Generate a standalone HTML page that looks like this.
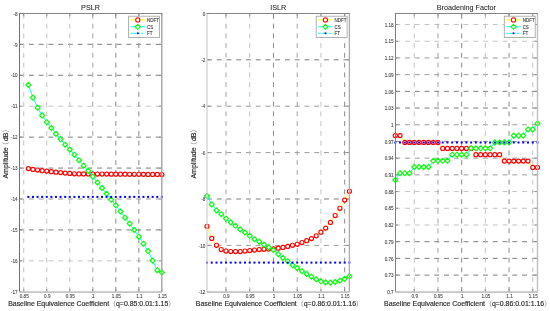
<!DOCTYPE html><html><head><meta charset="utf-8"><title>PSLR ISLR Broadening Factor</title>
<style>html,body{margin:0;padding:0;background:#fff;width:550px;height:311px;overflow:hidden}svg{display:block}text{font-family:"Liberation Sans","Noto Sans CJK SC",Arial,sans-serif;fill:#2a2a2a}.tl text{fill:#4a4a4a;stroke:#4a4a4a;stroke-width:0.1px}.lb{stroke:#2a2a2a;stroke-width:0.16px}.pn{fill:#777;stroke:none}.tt{stroke:#333;stroke-width:0.08px}.lg text{fill:#3c3c3c;stroke:#3c3c3c;stroke-width:0.12px}</style></head><body>
<svg width="550" height="311" viewBox="0 0 550 311">
<rect width="550" height="311" fill="#fff"/>
<g>
<path d="M19.20 44.33H161.80" stroke="#7e7e7e" stroke-width="1" stroke-dasharray="4.9 4.85"/>
<path d="M19.20 75.27H161.80" stroke="#7e7e7e" stroke-width="1" stroke-dasharray="4.9 4.85"/>
<path d="M19.20 106.20H161.80" stroke="#c4c4c4" stroke-width="1" stroke-dasharray="4.9 4.85"/>
<path d="M19.20 137.13H161.80" stroke="#7e7e7e" stroke-width="1" stroke-dasharray="4.9 4.85"/>
<path d="M19.20 168.07H161.80" stroke="#7e7e7e" stroke-width="1" stroke-dasharray="4.9 4.85"/>
<path d="M19.20 199.00H161.80" stroke="#9c9c9c" stroke-width="1" stroke-dasharray="4.9 4.85"/>
<path d="M19.20 229.93H161.80" stroke="#7e7e7e" stroke-width="1" stroke-dasharray="4.9 4.85"/>
<path d="M19.20 260.87H161.80" stroke="#c4c4c4" stroke-width="1" stroke-dasharray="4.9 4.85"/>
<path d="M23.76 291.80V13.40" stroke="#c2c2c2" stroke-width="1" stroke-dasharray="4.9 4.85"/>
<path d="M46.77 291.80V13.40" stroke="#c2c2c2" stroke-width="1" stroke-dasharray="4.9 4.85"/>
<path d="M69.79 291.80V13.40" stroke="#c2c2c2" stroke-width="1" stroke-dasharray="4.9 4.85"/>
<path d="M92.81 291.80V13.40" stroke="#a4a4a4" stroke-width="1" stroke-dasharray="4.9 4.85"/>
<path d="M115.83 291.80V13.40" stroke="#8a8a8a" stroke-width="1" stroke-dasharray="4.9 4.85"/>
<path d="M138.85 291.80V13.40" stroke="#8a8a8a" stroke-width="1" stroke-dasharray="4.9 4.85"/>
<path d="M19.20 13.40h2.8M161.80 13.40h-2.8M19.20 44.33h2.8M161.80 44.33h-2.8M19.20 75.27h2.8M161.80 75.27h-2.8M19.20 106.20h2.8M161.80 106.20h-2.8M19.20 137.13h2.8M161.80 137.13h-2.8M19.20 168.07h2.8M161.80 168.07h-2.8M19.20 199.00h2.8M161.80 199.00h-2.8M19.20 229.93h2.8M161.80 229.93h-2.8M19.20 260.87h2.8M161.80 260.87h-2.8M19.20 291.80h2.8M161.80 291.80h-2.8M23.76 291.80v-2.8M23.76 13.40v2.8M46.77 291.80v-2.8M46.77 13.40v2.8M69.79 291.80v-2.8M69.79 13.40v2.8M92.81 291.80v-2.8M92.81 13.40v2.8M115.83 291.80v-2.8M115.83 13.40v2.8M138.85 291.80v-2.8M138.85 13.40v2.8M161.86 291.80v-2.8M161.86 13.40v2.8" stroke="#8c8c8c" stroke-width="0.9" fill="none"/>
</g>
<polyline points="28.36,168.60 32.96,169.40 37.57,170.00 42.17,170.70 46.77,171.10 51.38,171.70 55.98,172.20 60.58,172.60 65.19,173.10 69.79,173.40 74.40,173.80 79.00,173.90 83.60,173.93 88.21,173.97 92.81,174.00 97.41,174.03 102.02,174.07 106.62,174.10 111.22,174.13 115.83,174.17 120.43,174.20 125.04,174.23 129.64,174.27 134.24,174.30 138.85,174.33 143.45,174.37 148.05,174.40 152.66,174.43 157.26,174.47 161.86,174.50" stroke="#ffff00" stroke-width="0.8" fill="none"/>
<g fill="#fff" stroke="#ff0000" stroke-width="1.15">
<circle cx="28.36" cy="168.60" r="2.05"/>
<circle cx="32.96" cy="169.40" r="2.05"/>
<circle cx="37.57" cy="170.00" r="2.05"/>
<circle cx="42.17" cy="170.70" r="2.05"/>
<circle cx="46.77" cy="171.10" r="2.05"/>
<circle cx="51.38" cy="171.70" r="2.05"/>
<circle cx="55.98" cy="172.20" r="2.05"/>
<circle cx="60.58" cy="172.60" r="2.05"/>
<circle cx="65.19" cy="173.10" r="2.05"/>
<circle cx="69.79" cy="173.40" r="2.05"/>
<circle cx="74.40" cy="173.80" r="2.05"/>
<circle cx="79.00" cy="173.90" r="2.05"/>
<circle cx="83.60" cy="173.93" r="2.05"/>
<circle cx="88.21" cy="173.97" r="2.05"/>
<circle cx="92.81" cy="174.00" r="2.05"/>
<circle cx="97.41" cy="174.03" r="2.05"/>
<circle cx="102.02" cy="174.07" r="2.05"/>
<circle cx="106.62" cy="174.10" r="2.05"/>
<circle cx="111.22" cy="174.13" r="2.05"/>
<circle cx="115.83" cy="174.17" r="2.05"/>
<circle cx="120.43" cy="174.20" r="2.05"/>
<circle cx="125.04" cy="174.23" r="2.05"/>
<circle cx="129.64" cy="174.27" r="2.05"/>
<circle cx="134.24" cy="174.30" r="2.05"/>
<circle cx="138.85" cy="174.33" r="2.05"/>
<circle cx="143.45" cy="174.37" r="2.05"/>
<circle cx="148.05" cy="174.40" r="2.05"/>
<circle cx="152.66" cy="174.43" r="2.05"/>
<circle cx="157.26" cy="174.47" r="2.05"/>
<circle cx="161.86" cy="174.50" r="2.05"/>
</g>
<polyline points="28.36,84.90 32.96,97.60 37.57,107.60 42.17,115.40 46.77,122.20 51.38,128.00 55.98,133.90 60.58,139.30 65.19,144.70 69.79,149.50 74.40,154.70 79.00,160.20 83.60,165.70 88.21,170.90 92.81,176.60 97.41,182.40 102.02,188.00 106.62,193.80 111.22,199.80 115.83,205.30 120.43,211.50 125.04,217.70 129.64,223.60 134.24,230.00 138.85,236.70 143.45,243.70 148.05,251.10 152.66,260.60 157.26,270.20 161.86,272.50" stroke="#00ffff" stroke-width="1.0" fill="none"/>
<g fill="#fff" stroke="#00ff00" stroke-width="1.15">
<path d="M28.36 82.40l2.50 2.50l-2.50 2.50l-2.50 -2.50z"/>
<path d="M32.96 95.10l2.50 2.50l-2.50 2.50l-2.50 -2.50z"/>
<path d="M37.57 105.10l2.50 2.50l-2.50 2.50l-2.50 -2.50z"/>
<path d="M42.17 112.90l2.50 2.50l-2.50 2.50l-2.50 -2.50z"/>
<path d="M46.77 119.70l2.50 2.50l-2.50 2.50l-2.50 -2.50z"/>
<path d="M51.38 125.50l2.50 2.50l-2.50 2.50l-2.50 -2.50z"/>
<path d="M55.98 131.40l2.50 2.50l-2.50 2.50l-2.50 -2.50z"/>
<path d="M60.58 136.80l2.50 2.50l-2.50 2.50l-2.50 -2.50z"/>
<path d="M65.19 142.20l2.50 2.50l-2.50 2.50l-2.50 -2.50z"/>
<path d="M69.79 147.00l2.50 2.50l-2.50 2.50l-2.50 -2.50z"/>
<path d="M74.40 152.20l2.50 2.50l-2.50 2.50l-2.50 -2.50z"/>
<path d="M79.00 157.70l2.50 2.50l-2.50 2.50l-2.50 -2.50z"/>
<path d="M83.60 163.20l2.50 2.50l-2.50 2.50l-2.50 -2.50z"/>
<path d="M88.21 168.40l2.50 2.50l-2.50 2.50l-2.50 -2.50z"/>
<path d="M92.81 174.10l2.50 2.50l-2.50 2.50l-2.50 -2.50z"/>
<path d="M97.41 179.90l2.50 2.50l-2.50 2.50l-2.50 -2.50z"/>
<path d="M102.02 185.50l2.50 2.50l-2.50 2.50l-2.50 -2.50z"/>
<path d="M106.62 191.30l2.50 2.50l-2.50 2.50l-2.50 -2.50z"/>
<path d="M111.22 197.30l2.50 2.50l-2.50 2.50l-2.50 -2.50z"/>
<path d="M115.83 202.80l2.50 2.50l-2.50 2.50l-2.50 -2.50z"/>
<path d="M120.43 209.00l2.50 2.50l-2.50 2.50l-2.50 -2.50z"/>
<path d="M125.04 215.20l2.50 2.50l-2.50 2.50l-2.50 -2.50z"/>
<path d="M129.64 221.10l2.50 2.50l-2.50 2.50l-2.50 -2.50z"/>
<path d="M134.24 227.50l2.50 2.50l-2.50 2.50l-2.50 -2.50z"/>
<path d="M138.85 234.20l2.50 2.50l-2.50 2.50l-2.50 -2.50z"/>
<path d="M143.45 241.20l2.50 2.50l-2.50 2.50l-2.50 -2.50z"/>
<path d="M148.05 248.60l2.50 2.50l-2.50 2.50l-2.50 -2.50z"/>
<path d="M152.66 258.10l2.50 2.50l-2.50 2.50l-2.50 -2.50z"/>
<path d="M157.26 267.70l2.50 2.50l-2.50 2.50l-2.50 -2.50z"/>
<path d="M161.86 270.00l2.50 2.50l-2.50 2.50l-2.50 -2.50z"/>
</g>
<g fill="#0000ff">
<rect x="27.36" y="195.90" width="2" height="2"/>
<rect x="31.96" y="195.90" width="2" height="2"/>
<rect x="36.57" y="195.90" width="2" height="2"/>
<rect x="41.17" y="195.90" width="2" height="2"/>
<rect x="45.77" y="195.90" width="2" height="2"/>
<rect x="50.38" y="195.90" width="2" height="2"/>
<rect x="54.98" y="195.90" width="2" height="2"/>
<rect x="59.58" y="195.90" width="2" height="2"/>
<rect x="64.19" y="195.90" width="2" height="2"/>
<rect x="68.79" y="195.90" width="2" height="2"/>
<rect x="73.40" y="195.90" width="2" height="2"/>
<rect x="78.00" y="195.90" width="2" height="2"/>
<rect x="82.60" y="195.90" width="2" height="2"/>
<rect x="87.21" y="195.90" width="2" height="2"/>
<rect x="91.81" y="195.90" width="2" height="2"/>
<rect x="96.41" y="195.90" width="2" height="2"/>
<rect x="101.02" y="195.90" width="2" height="2"/>
<rect x="105.62" y="195.90" width="2" height="2"/>
<rect x="110.22" y="195.90" width="2" height="2"/>
<rect x="114.83" y="195.90" width="2" height="2"/>
<rect x="119.43" y="195.90" width="2" height="2"/>
<rect x="124.04" y="195.90" width="2" height="2"/>
<rect x="128.64" y="195.90" width="2" height="2"/>
<rect x="133.24" y="195.90" width="2" height="2"/>
<rect x="137.85" y="195.90" width="2" height="2"/>
<rect x="142.45" y="195.90" width="2" height="2"/>
<rect x="147.05" y="195.90" width="2" height="2"/>
<rect x="151.66" y="195.90" width="2" height="2"/>
<rect x="156.26" y="195.90" width="2" height="2"/>
<rect x="160.86" y="195.90" width="2" height="2"/>
</g>
<path d="M19.50 13.40V291.80" stroke="#707070" stroke-width="1.00"/>
<path d="M161.80 13.40V291.80" stroke="#a4a4a4" stroke-width="1.40"/>
<path d="M18.70 13.50H162.30" stroke="#858585" stroke-width="1.00"/>
<path d="M19.20 292.10H161.80" stroke="#c4c4c4" stroke-width="1.60"/>
<g font-size="4.6" text-anchor="end" class="tl">
<text x="17.50" y="15.60">-8</text>
<text x="17.50" y="46.53">-9</text>
<text x="17.50" y="77.47">-10</text>
<text x="17.50" y="108.40">-11</text>
<text x="17.50" y="139.33">-12</text>
<text x="17.50" y="170.27">-13</text>
<text x="17.50" y="201.20">-14</text>
<text x="17.50" y="232.13">-15</text>
<text x="17.50" y="263.07">-16</text>
<text x="17.50" y="294.00">-17</text>
</g>
<g font-size="4.6" text-anchor="middle" class="tl">
<text x="24.26" y="297.80">0.85</text>
<text x="47.27" y="297.80">0.9</text>
<text x="70.29" y="297.80">0.95</text>
<text x="93.31" y="297.80">1</text>
<text x="116.33" y="297.80">1.05</text>
<text x="139.35" y="297.80">1.1</text>
<text x="162.36" y="297.80">1.15</text>
</g>
<text class="tt" x="90.50" y="9.7" font-size="7.2" text-anchor="middle">PSLR</text>
<text class="lb" x="91.70" y="305.8" font-size="6.95" text-anchor="middle">Baseline Equivalence Coefficient<tspan class="pn">（</tspan>q=0.85:0.01:1.15<tspan class="pn">）</tspan></text>
<text class="lb" transform="translate(7.70 178.6) rotate(-90)" font-size="7.0">Amplitude<tspan class="pn" dx="-1.5">（</tspan><tspan dx="0.9">dB</tspan><tspan class="pn">）</tspan></text>
<rect x="128.60" y="16.20" width="30.90" height="21.40" fill="#fff" stroke="#a0a0a0" stroke-width="0.8"/>
<path d="M130.60 19.90H145.00" stroke="#ffff00" stroke-width="1"/>
<circle cx="137.80" cy="19.90" r="2.1" fill="#fff" stroke="#ff0000" stroke-width="1.1"/>
<path d="M130.60 26.80H145.00" stroke="#00ffff" stroke-width="1"/>
<path d="M137.80 24.30l2.5 2.5l-2.5 2.5l-2.5 -2.5z" fill="#fff" stroke="#00ff00" stroke-width="1.1"/>
<path d="M130.60 33.30H145.00" stroke="#00ffff" stroke-width="1" stroke-dasharray="2.4 1.1"/>
<rect x="136.90" y="32.40" width="1.8" height="1.8" fill="#0000ff"/>
<g font-size="4.9" class="lg">
<text x="147.00" y="21.70" textLength="12.0" lengthAdjust="spacingAndGlyphs">NDFT</text>
<text x="147.00" y="28.60" textLength="6.1" lengthAdjust="spacingAndGlyphs">CS</text>
<text x="147.00" y="35.10" textLength="5.5" lengthAdjust="spacingAndGlyphs">FT</text>
</g>
<g>
<path d="M207.00 59.80H349.40" stroke="#7e7e7e" stroke-width="1" stroke-dasharray="4.9 4.85"/>
<path d="M207.00 106.20H349.40" stroke="#9c9c9c" stroke-width="1" stroke-dasharray="4.9 4.85"/>
<path d="M207.00 152.60H349.40" stroke="#9c9c9c" stroke-width="1" stroke-dasharray="4.9 4.85"/>
<path d="M207.00 199.00H349.40" stroke="#7e7e7e" stroke-width="1" stroke-dasharray="4.9 4.85"/>
<path d="M207.00 245.40H349.40" stroke="#9c9c9c" stroke-width="1" stroke-dasharray="4.9 4.85"/>
<path d="M225.99 291.80V13.40" stroke="#a4a4a4" stroke-width="1" stroke-dasharray="4.9 4.85"/>
<path d="M249.72 291.80V13.40" stroke="#c2c2c2" stroke-width="1" stroke-dasharray="4.9 4.85"/>
<path d="M273.46 291.80V13.40" stroke="#8a8a8a" stroke-width="1" stroke-dasharray="4.9 4.85"/>
<path d="M297.19 291.80V13.40" stroke="#a4a4a4" stroke-width="1" stroke-dasharray="4.9 4.85"/>
<path d="M320.93 291.80V13.40" stroke="#c2c2c2" stroke-width="1" stroke-dasharray="4.9 4.85"/>
<path d="M344.66 291.80V13.40" stroke="#8a8a8a" stroke-width="1" stroke-dasharray="4.9 4.85"/>
<path d="M207.00 13.40h2.8M349.40 13.40h-2.8M207.00 59.80h2.8M349.40 59.80h-2.8M207.00 106.20h2.8M349.40 106.20h-2.8M207.00 152.60h2.8M349.40 152.60h-2.8M207.00 199.00h2.8M349.40 199.00h-2.8M207.00 245.40h2.8M349.40 245.40h-2.8M207.00 291.80h2.8M349.40 291.80h-2.8M225.99 291.80v-2.8M225.99 13.40v2.8M249.72 291.80v-2.8M249.72 13.40v2.8M273.46 291.80v-2.8M273.46 13.40v2.8M297.19 291.80v-2.8M297.19 13.40v2.8M320.93 291.80v-2.8M320.93 13.40v2.8M344.66 291.80v-2.8M344.66 13.40v2.8" stroke="#8c8c8c" stroke-width="0.9" fill="none"/>
</g>
<polyline points="207.00,226.30 211.75,238.40 216.49,245.30 221.24,249.50 225.99,251.00 230.74,251.50 235.48,251.50 240.23,251.50 244.98,251.00 249.72,250.50 254.47,250.00 259.22,249.50 263.96,249.30 268.71,249.10 273.46,248.90 278.21,248.20 282.95,247.40 287.70,246.40 292.45,245.30 297.19,244.30 301.94,242.50 306.69,240.70 311.43,238.60 316.18,235.80 320.93,232.20 325.67,228.10 330.42,222.40 335.17,215.50 339.92,208.30 344.66,200.10 349.41,191.30" stroke="#ffff00" stroke-width="0.8" fill="none"/>
<g fill="#fff" stroke="#ff0000" stroke-width="1.15">
<circle cx="207.00" cy="226.30" r="2.05"/>
<circle cx="211.75" cy="238.40" r="2.05"/>
<circle cx="216.49" cy="245.30" r="2.05"/>
<circle cx="221.24" cy="249.50" r="2.05"/>
<circle cx="225.99" cy="251.00" r="2.05"/>
<circle cx="230.74" cy="251.50" r="2.05"/>
<circle cx="235.48" cy="251.50" r="2.05"/>
<circle cx="240.23" cy="251.50" r="2.05"/>
<circle cx="244.98" cy="251.00" r="2.05"/>
<circle cx="249.72" cy="250.50" r="2.05"/>
<circle cx="254.47" cy="250.00" r="2.05"/>
<circle cx="259.22" cy="249.50" r="2.05"/>
<circle cx="263.96" cy="249.30" r="2.05"/>
<circle cx="268.71" cy="249.10" r="2.05"/>
<circle cx="273.46" cy="248.90" r="2.05"/>
<circle cx="278.21" cy="248.20" r="2.05"/>
<circle cx="282.95" cy="247.40" r="2.05"/>
<circle cx="287.70" cy="246.40" r="2.05"/>
<circle cx="292.45" cy="245.30" r="2.05"/>
<circle cx="297.19" cy="244.30" r="2.05"/>
<circle cx="301.94" cy="242.50" r="2.05"/>
<circle cx="306.69" cy="240.70" r="2.05"/>
<circle cx="311.43" cy="238.60" r="2.05"/>
<circle cx="316.18" cy="235.80" r="2.05"/>
<circle cx="320.93" cy="232.20" r="2.05"/>
<circle cx="325.67" cy="228.10" r="2.05"/>
<circle cx="330.42" cy="222.40" r="2.05"/>
<circle cx="335.17" cy="215.50" r="2.05"/>
<circle cx="339.92" cy="208.30" r="2.05"/>
<circle cx="344.66" cy="200.10" r="2.05"/>
<circle cx="349.41" cy="191.30" r="2.05"/>
</g>
<polyline points="207.00,196.00 211.75,204.40 216.49,210.40 221.24,214.20 225.99,218.60 230.74,222.40 235.48,225.80 240.23,229.40 244.98,232.50 249.72,235.80 254.47,239.20 259.22,241.70 263.96,244.60 268.71,247.40 273.46,250.00 278.21,254.10 282.95,257.90 287.70,261.20 292.45,265.10 297.19,268.00 301.94,271.10 306.69,274.00 311.43,276.70 316.18,279.20 320.93,281.30 325.67,282.40 330.42,282.60 335.17,282.00 339.92,280.70 344.66,278.80 349.41,276.30" stroke="#00ffff" stroke-width="1.0" fill="none"/>
<g fill="#fff" stroke="#00ff00" stroke-width="1.15">
<path d="M207.00 193.50l2.50 2.50l-2.50 2.50l-2.50 -2.50z"/>
<path d="M211.75 201.90l2.50 2.50l-2.50 2.50l-2.50 -2.50z"/>
<path d="M216.49 207.90l2.50 2.50l-2.50 2.50l-2.50 -2.50z"/>
<path d="M221.24 211.70l2.50 2.50l-2.50 2.50l-2.50 -2.50z"/>
<path d="M225.99 216.10l2.50 2.50l-2.50 2.50l-2.50 -2.50z"/>
<path d="M230.74 219.90l2.50 2.50l-2.50 2.50l-2.50 -2.50z"/>
<path d="M235.48 223.30l2.50 2.50l-2.50 2.50l-2.50 -2.50z"/>
<path d="M240.23 226.90l2.50 2.50l-2.50 2.50l-2.50 -2.50z"/>
<path d="M244.98 230.00l2.50 2.50l-2.50 2.50l-2.50 -2.50z"/>
<path d="M249.72 233.30l2.50 2.50l-2.50 2.50l-2.50 -2.50z"/>
<path d="M254.47 236.70l2.50 2.50l-2.50 2.50l-2.50 -2.50z"/>
<path d="M259.22 239.20l2.50 2.50l-2.50 2.50l-2.50 -2.50z"/>
<path d="M263.96 242.10l2.50 2.50l-2.50 2.50l-2.50 -2.50z"/>
<path d="M268.71 244.90l2.50 2.50l-2.50 2.50l-2.50 -2.50z"/>
<path d="M273.46 247.50l2.50 2.50l-2.50 2.50l-2.50 -2.50z"/>
<path d="M278.21 251.60l2.50 2.50l-2.50 2.50l-2.50 -2.50z"/>
<path d="M282.95 255.40l2.50 2.50l-2.50 2.50l-2.50 -2.50z"/>
<path d="M287.70 258.70l2.50 2.50l-2.50 2.50l-2.50 -2.50z"/>
<path d="M292.45 262.60l2.50 2.50l-2.50 2.50l-2.50 -2.50z"/>
<path d="M297.19 265.50l2.50 2.50l-2.50 2.50l-2.50 -2.50z"/>
<path d="M301.94 268.60l2.50 2.50l-2.50 2.50l-2.50 -2.50z"/>
<path d="M306.69 271.50l2.50 2.50l-2.50 2.50l-2.50 -2.50z"/>
<path d="M311.43 274.20l2.50 2.50l-2.50 2.50l-2.50 -2.50z"/>
<path d="M316.18 276.70l2.50 2.50l-2.50 2.50l-2.50 -2.50z"/>
<path d="M320.93 278.80l2.50 2.50l-2.50 2.50l-2.50 -2.50z"/>
<path d="M325.67 279.90l2.50 2.50l-2.50 2.50l-2.50 -2.50z"/>
<path d="M330.42 280.10l2.50 2.50l-2.50 2.50l-2.50 -2.50z"/>
<path d="M335.17 279.50l2.50 2.50l-2.50 2.50l-2.50 -2.50z"/>
<path d="M339.92 278.20l2.50 2.50l-2.50 2.50l-2.50 -2.50z"/>
<path d="M344.66 276.30l2.50 2.50l-2.50 2.50l-2.50 -2.50z"/>
<path d="M349.41 273.80l2.50 2.50l-2.50 2.50l-2.50 -2.50z"/>
</g>
<g fill="#0000ff">
<rect x="206.00" y="261.60" width="2" height="2"/>
<rect x="210.75" y="261.60" width="2" height="2"/>
<rect x="215.49" y="261.60" width="2" height="2"/>
<rect x="220.24" y="261.60" width="2" height="2"/>
<rect x="224.99" y="261.60" width="2" height="2"/>
<rect x="229.74" y="261.60" width="2" height="2"/>
<rect x="234.48" y="261.60" width="2" height="2"/>
<rect x="239.23" y="261.60" width="2" height="2"/>
<rect x="243.98" y="261.60" width="2" height="2"/>
<rect x="248.72" y="261.60" width="2" height="2"/>
<rect x="253.47" y="261.60" width="2" height="2"/>
<rect x="258.22" y="261.60" width="2" height="2"/>
<rect x="262.96" y="261.60" width="2" height="2"/>
<rect x="267.71" y="261.60" width="2" height="2"/>
<rect x="272.46" y="261.60" width="2" height="2"/>
<rect x="277.21" y="261.60" width="2" height="2"/>
<rect x="281.95" y="261.60" width="2" height="2"/>
<rect x="286.70" y="261.60" width="2" height="2"/>
<rect x="291.45" y="261.60" width="2" height="2"/>
<rect x="296.19" y="261.60" width="2" height="2"/>
<rect x="300.94" y="261.60" width="2" height="2"/>
<rect x="305.69" y="261.60" width="2" height="2"/>
<rect x="310.43" y="261.60" width="2" height="2"/>
<rect x="315.18" y="261.60" width="2" height="2"/>
<rect x="319.93" y="261.60" width="2" height="2"/>
<rect x="324.67" y="261.60" width="2" height="2"/>
<rect x="329.42" y="261.60" width="2" height="2"/>
<rect x="334.17" y="261.60" width="2" height="2"/>
<rect x="338.92" y="261.60" width="2" height="2"/>
<rect x="343.66" y="261.60" width="2" height="2"/>
<rect x="348.41" y="261.60" width="2" height="2"/>
</g>
<path d="M207.00 13.40V291.80" stroke="#cdcdcd" stroke-width="1.20"/>
<path d="M349.40 13.40V291.80" stroke="#acacac" stroke-width="1.30"/>
<path d="M206.50 13.50H349.90" stroke="#858585" stroke-width="1.00"/>
<path d="M207.00 292.10H349.40" stroke="#c4c4c4" stroke-width="1.60"/>
<g font-size="4.6" text-anchor="end" class="tl">
<text x="205.30" y="15.60">0</text>
<text x="205.30" y="62.00">-2</text>
<text x="205.30" y="108.40">-4</text>
<text x="205.30" y="154.80">-6</text>
<text x="205.30" y="201.20">-8</text>
<text x="205.30" y="247.60">-10</text>
<text x="205.30" y="294.00">-12</text>
</g>
<g font-size="4.6" text-anchor="middle" class="tl">
<text x="226.49" y="297.80">0.9</text>
<text x="250.22" y="297.80">0.95</text>
<text x="273.96" y="297.80">1</text>
<text x="297.69" y="297.80">1.05</text>
<text x="321.43" y="297.80">1.1</text>
<text x="345.16" y="297.80">1.15</text>
</g>
<text class="tt" x="278.20" y="9.7" font-size="7.2" text-anchor="middle">ISLR</text>
<text class="lb" x="279.40" y="305.8" font-size="6.95" text-anchor="middle">Baseline Equivalence Coefficient<tspan class="pn">（</tspan>q=0.86:0.01:1.16<tspan class="pn">）</tspan></text>
<text class="lb" transform="translate(195.50 178.6) rotate(-90)" font-size="7.0">Amplitude<tspan class="pn" dx="-1.5">（</tspan><tspan dx="0.9">dB</tspan><tspan class="pn">）</tspan></text>
<rect x="316.20" y="16.20" width="30.90" height="21.40" fill="#fff" stroke="#a0a0a0" stroke-width="0.8"/>
<path d="M318.20 19.90H332.60" stroke="#ffff00" stroke-width="1"/>
<circle cx="325.40" cy="19.90" r="2.1" fill="#fff" stroke="#ff0000" stroke-width="1.1"/>
<path d="M318.20 26.80H332.60" stroke="#00ffff" stroke-width="1"/>
<path d="M325.40 24.30l2.5 2.5l-2.5 2.5l-2.5 -2.5z" fill="#fff" stroke="#00ff00" stroke-width="1.1"/>
<path d="M318.20 33.30H332.60" stroke="#00ffff" stroke-width="1" stroke-dasharray="2.4 1.1"/>
<rect x="324.50" y="32.40" width="1.8" height="1.8" fill="#0000ff"/>
<g font-size="4.9" class="lg">
<text x="334.60" y="21.70" textLength="12.0" lengthAdjust="spacingAndGlyphs">NDFT</text>
<text x="334.60" y="28.60" textLength="6.1" lengthAdjust="spacingAndGlyphs">CS</text>
<text x="334.60" y="35.10" textLength="5.5" lengthAdjust="spacingAndGlyphs">FT</text>
</g>
<g>
<path d="M395.30 275.10H537.50" stroke="#7e7e7e" stroke-width="1" stroke-dasharray="4.9 4.85"/>
<path d="M395.30 258.39H537.50" stroke="#7e7e7e" stroke-width="1" stroke-dasharray="4.9 4.85"/>
<path d="M395.30 241.69H537.50" stroke="#7e7e7e" stroke-width="1" stroke-dasharray="4.9 4.85"/>
<path d="M395.30 224.98H537.50" stroke="#c4c4c4" stroke-width="1" stroke-dasharray="4.9 4.85"/>
<path d="M395.30 208.28H537.50" stroke="#c4c4c4" stroke-width="1" stroke-dasharray="4.9 4.85"/>
<path d="M395.30 191.58H537.50" stroke="#c4c4c4" stroke-width="1" stroke-dasharray="4.9 4.85"/>
<path d="M395.30 174.87H537.50" stroke="#9c9c9c" stroke-width="1" stroke-dasharray="4.9 4.85"/>
<path d="M395.30 158.17H537.50" stroke="#9c9c9c" stroke-width="1" stroke-dasharray="4.9 4.85"/>
<path d="M395.30 141.46H537.50" stroke="#9c9c9c" stroke-width="1" stroke-dasharray="4.9 4.85"/>
<path d="M395.30 124.76H537.50" stroke="#9c9c9c" stroke-width="1" stroke-dasharray="4.9 4.85"/>
<path d="M395.30 108.06H537.50" stroke="#7e7e7e" stroke-width="1" stroke-dasharray="4.9 4.85"/>
<path d="M395.30 91.35H537.50" stroke="#7e7e7e" stroke-width="1" stroke-dasharray="4.9 4.85"/>
<path d="M395.30 74.65H537.50" stroke="#9c9c9c" stroke-width="1" stroke-dasharray="4.9 4.85"/>
<path d="M395.30 57.94H537.50" stroke="#9c9c9c" stroke-width="1" stroke-dasharray="4.9 4.85"/>
<path d="M395.30 41.24H537.50" stroke="#c4c4c4" stroke-width="1" stroke-dasharray="4.9 4.85"/>
<path d="M395.30 24.54H537.50" stroke="#c4c4c4" stroke-width="1" stroke-dasharray="4.9 4.85"/>
<path d="M414.26 291.80V13.40" stroke="#c2c2c2" stroke-width="1" stroke-dasharray="4.9 4.85"/>
<path d="M437.96 291.80V13.40" stroke="#a4a4a4" stroke-width="1" stroke-dasharray="4.9 4.85"/>
<path d="M461.66 291.80V13.40" stroke="#8a8a8a" stroke-width="1" stroke-dasharray="4.9 4.85"/>
<path d="M485.36 291.80V13.40" stroke="#c2c2c2" stroke-width="1" stroke-dasharray="4.9 4.85"/>
<path d="M509.06 291.80V13.40" stroke="#8a8a8a" stroke-width="1" stroke-dasharray="4.9 4.85"/>
<path d="M532.76 291.80V13.40" stroke="#c2c2c2" stroke-width="1" stroke-dasharray="4.9 4.85"/>
<path d="M395.30 291.80h2.8M537.50 291.80h-2.8M395.30 275.10h2.8M537.50 275.10h-2.8M395.30 258.39h2.8M537.50 258.39h-2.8M395.30 241.69h2.8M537.50 241.69h-2.8M395.30 224.98h2.8M537.50 224.98h-2.8M395.30 208.28h2.8M537.50 208.28h-2.8M395.30 191.58h2.8M537.50 191.58h-2.8M395.30 174.87h2.8M537.50 174.87h-2.8M395.30 158.17h2.8M537.50 158.17h-2.8M395.30 141.46h2.8M537.50 141.46h-2.8M395.30 124.76h2.8M537.50 124.76h-2.8M395.30 108.06h2.8M537.50 108.06h-2.8M395.30 91.35h2.8M537.50 91.35h-2.8M395.30 74.65h2.8M537.50 74.65h-2.8M395.30 57.94h2.8M537.50 57.94h-2.8M395.30 41.24h2.8M537.50 41.24h-2.8M395.30 24.54h2.8M537.50 24.54h-2.8M414.26 291.80v-2.8M414.26 13.40v2.8M437.96 291.80v-2.8M437.96 13.40v2.8M461.66 291.80v-2.8M461.66 13.40v2.8M485.36 291.80v-2.8M485.36 13.40v2.8M509.06 291.80v-2.8M509.06 13.40v2.8M532.76 291.80v-2.8M532.76 13.40v2.8" stroke="#8c8c8c" stroke-width="0.9" fill="none"/>
</g>
<polyline points="395.30,135.60 400.04,135.60 404.78,142.40 409.52,142.40 414.26,142.40 419.00,142.40 423.74,142.40 428.48,142.40 433.22,142.40 437.96,142.40 442.70,148.40 447.44,148.40 452.18,148.40 456.92,148.40 461.66,148.40 466.40,148.40 471.14,148.40 475.88,154.70 480.62,154.70 485.36,154.70 490.10,154.70 494.84,154.70 499.58,154.70 504.32,161.10 509.06,161.10 513.80,161.10 518.54,161.10 523.28,161.10 528.02,161.10 532.76,167.40 537.50,167.40" stroke="#ffff00" stroke-width="0.8" fill="none"/>
<g fill="#fff" stroke="#ff0000" stroke-width="1.15">
<circle cx="395.30" cy="135.60" r="2.05"/>
<circle cx="400.04" cy="135.60" r="2.05"/>
<circle cx="404.78" cy="142.40" r="2.05"/>
<circle cx="409.52" cy="142.40" r="2.05"/>
<circle cx="414.26" cy="142.40" r="2.05"/>
<circle cx="419.00" cy="142.40" r="2.05"/>
<circle cx="423.74" cy="142.40" r="2.05"/>
<circle cx="428.48" cy="142.40" r="2.05"/>
<circle cx="433.22" cy="142.40" r="2.05"/>
<circle cx="437.96" cy="142.40" r="2.05"/>
<circle cx="442.70" cy="148.40" r="2.05"/>
<circle cx="447.44" cy="148.40" r="2.05"/>
<circle cx="452.18" cy="148.40" r="2.05"/>
<circle cx="456.92" cy="148.40" r="2.05"/>
<circle cx="461.66" cy="148.40" r="2.05"/>
<circle cx="466.40" cy="148.40" r="2.05"/>
<circle cx="471.14" cy="148.40" r="2.05"/>
<circle cx="475.88" cy="154.70" r="2.05"/>
<circle cx="480.62" cy="154.70" r="2.05"/>
<circle cx="485.36" cy="154.70" r="2.05"/>
<circle cx="490.10" cy="154.70" r="2.05"/>
<circle cx="494.84" cy="154.70" r="2.05"/>
<circle cx="499.58" cy="154.70" r="2.05"/>
<circle cx="504.32" cy="161.10" r="2.05"/>
<circle cx="509.06" cy="161.10" r="2.05"/>
<circle cx="513.80" cy="161.10" r="2.05"/>
<circle cx="518.54" cy="161.10" r="2.05"/>
<circle cx="523.28" cy="161.10" r="2.05"/>
<circle cx="528.02" cy="161.10" r="2.05"/>
<circle cx="532.76" cy="167.40" r="2.05"/>
<circle cx="537.50" cy="167.40" r="2.05"/>
</g>
<polyline points="395.30,180.00 400.04,173.20 404.78,173.20 409.52,173.20 414.26,167.00 419.00,167.00 423.74,167.00 428.48,167.00 433.22,160.80 437.96,160.80 442.70,160.80 447.44,160.80 452.18,154.70 456.92,154.70 461.66,154.70 466.40,154.70 471.14,148.30 475.88,148.30 480.62,148.30 485.36,148.30 490.10,148.30 494.84,142.40 499.58,142.40 504.32,142.40 509.06,142.40 513.80,135.60 518.54,135.60 523.28,135.60 528.02,129.40 532.76,129.40 537.50,123.50" stroke="#00ffff" stroke-width="1.0" fill="none"/>
<g fill="#fff" stroke="#00ff00" stroke-width="1.15">
<path d="M395.30 177.50l2.50 2.50l-2.50 2.50l-2.50 -2.50z"/>
<path d="M400.04 170.70l2.50 2.50l-2.50 2.50l-2.50 -2.50z"/>
<path d="M404.78 170.70l2.50 2.50l-2.50 2.50l-2.50 -2.50z"/>
<path d="M409.52 170.70l2.50 2.50l-2.50 2.50l-2.50 -2.50z"/>
<path d="M414.26 164.50l2.50 2.50l-2.50 2.50l-2.50 -2.50z"/>
<path d="M419.00 164.50l2.50 2.50l-2.50 2.50l-2.50 -2.50z"/>
<path d="M423.74 164.50l2.50 2.50l-2.50 2.50l-2.50 -2.50z"/>
<path d="M428.48 164.50l2.50 2.50l-2.50 2.50l-2.50 -2.50z"/>
<path d="M433.22 158.30l2.50 2.50l-2.50 2.50l-2.50 -2.50z"/>
<path d="M437.96 158.30l2.50 2.50l-2.50 2.50l-2.50 -2.50z"/>
<path d="M442.70 158.30l2.50 2.50l-2.50 2.50l-2.50 -2.50z"/>
<path d="M447.44 158.30l2.50 2.50l-2.50 2.50l-2.50 -2.50z"/>
<path d="M452.18 152.20l2.50 2.50l-2.50 2.50l-2.50 -2.50z"/>
<path d="M456.92 152.20l2.50 2.50l-2.50 2.50l-2.50 -2.50z"/>
<path d="M461.66 152.20l2.50 2.50l-2.50 2.50l-2.50 -2.50z"/>
<path d="M466.40 152.20l2.50 2.50l-2.50 2.50l-2.50 -2.50z"/>
<path d="M471.14 145.80l2.50 2.50l-2.50 2.50l-2.50 -2.50z"/>
<path d="M475.88 145.80l2.50 2.50l-2.50 2.50l-2.50 -2.50z"/>
<path d="M480.62 145.80l2.50 2.50l-2.50 2.50l-2.50 -2.50z"/>
<path d="M485.36 145.80l2.50 2.50l-2.50 2.50l-2.50 -2.50z"/>
<path d="M490.10 145.80l2.50 2.50l-2.50 2.50l-2.50 -2.50z"/>
<path d="M494.84 139.90l2.50 2.50l-2.50 2.50l-2.50 -2.50z"/>
<path d="M499.58 139.90l2.50 2.50l-2.50 2.50l-2.50 -2.50z"/>
<path d="M504.32 139.90l2.50 2.50l-2.50 2.50l-2.50 -2.50z"/>
<path d="M509.06 139.90l2.50 2.50l-2.50 2.50l-2.50 -2.50z"/>
<path d="M513.80 133.10l2.50 2.50l-2.50 2.50l-2.50 -2.50z"/>
<path d="M518.54 133.10l2.50 2.50l-2.50 2.50l-2.50 -2.50z"/>
<path d="M523.28 133.10l2.50 2.50l-2.50 2.50l-2.50 -2.50z"/>
<path d="M528.02 126.90l2.50 2.50l-2.50 2.50l-2.50 -2.50z"/>
<path d="M532.76 126.90l2.50 2.50l-2.50 2.50l-2.50 -2.50z"/>
<path d="M537.50 121.00l2.50 2.50l-2.50 2.50l-2.50 -2.50z"/>
</g>
<g fill="#0000ff">
<rect x="394.30" y="141.50" width="2" height="2"/>
<rect x="399.04" y="141.50" width="2" height="2"/>
<rect x="403.78" y="141.50" width="2" height="2"/>
<rect x="408.52" y="141.50" width="2" height="2"/>
<rect x="413.26" y="141.50" width="2" height="2"/>
<rect x="418.00" y="141.50" width="2" height="2"/>
<rect x="422.74" y="141.50" width="2" height="2"/>
<rect x="427.48" y="141.50" width="2" height="2"/>
<rect x="432.22" y="141.50" width="2" height="2"/>
<rect x="436.96" y="141.50" width="2" height="2"/>
<rect x="441.70" y="141.50" width="2" height="2"/>
<rect x="446.44" y="141.50" width="2" height="2"/>
<rect x="451.18" y="141.50" width="2" height="2"/>
<rect x="455.92" y="141.50" width="2" height="2"/>
<rect x="460.66" y="141.50" width="2" height="2"/>
<rect x="465.40" y="141.50" width="2" height="2"/>
<rect x="470.14" y="141.50" width="2" height="2"/>
<rect x="474.88" y="141.50" width="2" height="2"/>
<rect x="479.62" y="141.50" width="2" height="2"/>
<rect x="484.36" y="141.50" width="2" height="2"/>
<rect x="489.10" y="141.50" width="2" height="2"/>
<rect x="493.84" y="141.50" width="2" height="2"/>
<rect x="498.58" y="141.50" width="2" height="2"/>
<rect x="503.32" y="141.50" width="2" height="2"/>
<rect x="508.06" y="141.50" width="2" height="2"/>
<rect x="512.80" y="141.50" width="2" height="2"/>
<rect x="517.54" y="141.50" width="2" height="2"/>
<rect x="522.28" y="141.50" width="2" height="2"/>
<rect x="527.02" y="141.50" width="2" height="2"/>
<rect x="531.76" y="141.50" width="2" height="2"/>
<rect x="536.50" y="141.50" width="2" height="2"/>
</g>
<path d="M395.50 13.40V291.80" stroke="#808080" stroke-width="1.00"/>
<path d="M537.50 13.40V291.80" stroke="#bdbdbd" stroke-width="1.40"/>
<path d="M394.80 13.50H538.00" stroke="#858585" stroke-width="1.00"/>
<path d="M395.30 292.10H537.50" stroke="#c4c4c4" stroke-width="1.60"/>
<g font-size="4.6" text-anchor="end" class="tl">
<text x="393.60" y="294.00">0.7</text>
<text x="393.60" y="277.30">0.73</text>
<text x="393.60" y="260.59">0.76</text>
<text x="393.60" y="243.89">0.79</text>
<text x="393.60" y="227.18">0.82</text>
<text x="393.60" y="210.48">0.85</text>
<text x="393.60" y="193.78">0.88</text>
<text x="393.60" y="177.07">0.91</text>
<text x="393.60" y="160.37">0.94</text>
<text x="393.60" y="143.66">0.97</text>
<text x="393.60" y="126.96">1</text>
<text x="393.60" y="110.26">1.03</text>
<text x="393.60" y="93.55">1.06</text>
<text x="393.60" y="76.85">1.09</text>
<text x="393.60" y="60.14">1.12</text>
<text x="393.60" y="43.44">1.15</text>
<text x="393.60" y="26.74">1.18</text>
</g>
<g font-size="4.6" text-anchor="middle" class="tl">
<text x="414.76" y="297.80">0.9</text>
<text x="438.46" y="297.80">0.95</text>
<text x="462.16" y="297.80">1</text>
<text x="485.86" y="297.80">1.05</text>
<text x="509.56" y="297.80">1.1</text>
<text x="533.26" y="297.80">1.15</text>
</g>
<text class="tt" x="466.40" y="9.7" font-size="7.2" text-anchor="middle">Broadening Factor</text>
<text class="lb" x="467.60" y="305.8" font-size="6.95" text-anchor="middle">Baseline Equivalence Coefficient<tspan class="pn">（</tspan>q=0.86:0.01:1.16<tspan class="pn">）</tspan></text>
<rect x="504.30" y="16.20" width="30.90" height="21.40" fill="#fff" stroke="#a0a0a0" stroke-width="0.8"/>
<path d="M506.30 19.90H520.70" stroke="#ffff00" stroke-width="1"/>
<circle cx="513.50" cy="19.90" r="2.1" fill="#fff" stroke="#ff0000" stroke-width="1.1"/>
<path d="M506.30 26.80H520.70" stroke="#00ffff" stroke-width="1"/>
<path d="M513.50 24.30l2.5 2.5l-2.5 2.5l-2.5 -2.5z" fill="#fff" stroke="#00ff00" stroke-width="1.1"/>
<path d="M506.30 33.30H520.70" stroke="#00ffff" stroke-width="1" stroke-dasharray="2.4 1.1"/>
<rect x="512.60" y="32.40" width="1.8" height="1.8" fill="#0000ff"/>
<g font-size="4.9" class="lg">
<text x="522.70" y="21.70" textLength="12.0" lengthAdjust="spacingAndGlyphs">NDFT</text>
<text x="522.70" y="28.60" textLength="6.1" lengthAdjust="spacingAndGlyphs">CS</text>
<text x="522.70" y="35.10" textLength="5.5" lengthAdjust="spacingAndGlyphs">FT</text>
</g>
</svg></body></html>
